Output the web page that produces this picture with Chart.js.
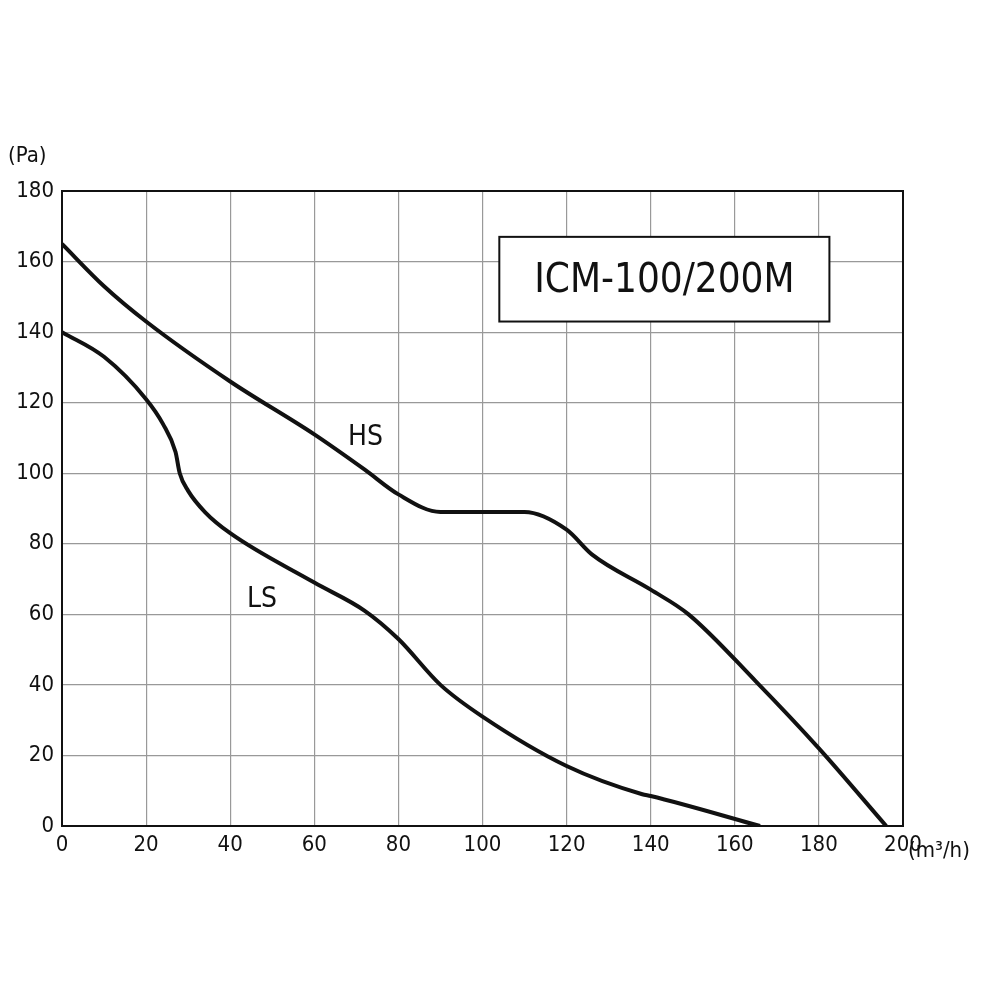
<!DOCTYPE html>
<html>
<head>
<meta charset="utf-8">
<script src="https://cdn.jsdelivr.net/npm/chart.js@4.4.1/dist/chart.umd.min.js"></script>
<style>
  html, body { margin: 0; padding: 0; background: #fff; }
  #wrap { width: 1000px; height: 1000px; }
</style>
</head>
<body>
<div id="wrap"><canvas id="fanChart" width="1000" height="1000"></canvas></div>
<script>
// air flow (m3/h) / pressure (Pa)
var hsFlow = [0, 10, 20, 40, 60, 72, 80, 90, 110, 120, 126, 140, 149, 165, 180, 196];
var hsPressure = [165, 153, 143, 126, 111, 101, 94, 89, 89, 84, 77, 67, 60, 41, 22, 0];
var lsFlow = [0, 10, 20, 24, 27, 28, 30, 34, 40, 60, 72, 80, 90, 100, 120, 138, 140, 166];
var lsPressure = [140, 133, 121, 114, 106, 100, 95, 89, 83, 69, 61, 53, 40, 31, 17, 9, 8.5, 0];
var xTicks = [0, 20, 40, 60, 80, 100, 120, 140, 160, 180, 200];
var yTicks = [0, 20, 40, 60, 80, 100, 120, 140, 160, 180];
var modelName = 'ICM-100/200M';

function toPoints(xs, ys) {
    return xs.map(function (x, i) { return { x: x, y: ys[i] }; });
}

var font = '"DejaVu Sans Condensed", "Liberation Sans Narrow", sans-serif';

var annotations = {
    id: 'annotations',
    afterDraw: function (chart) {
        var c = chart.ctx, x = chart.scales.x, y = chart.scales.y;
        c.save();
        c.fillStyle = '#111';
        c.font = '22px ' + font;
        c.textBaseline = 'alphabetic';
        c.textAlign = 'left';
        c.fillText('(Pa)', 8, 162);
        c.fillText('(m\u00b3/h)', 908, 857);
        c.font = '28px ' + font;
        c.fillText('HS', x.getPixelForValue(68), y.getPixelForValue(108));
        c.fillText('LS', x.getPixelForValue(44), y.getPixelForValue(62));
        // model box
        var bx = x.getPixelForValue(104), by = y.getPixelForValue(167);
        var bw = x.getPixelForValue(182.5) - bx, bh = y.getPixelForValue(143) - by;
        c.fillStyle = '#fff';
        c.fillRect(bx, by, bw, bh);
        c.strokeStyle = '#111';
        c.lineWidth = 2;
        c.strokeRect(bx, by, bw, bh);
        c.fillStyle = '#111';
        c.font = '40px ' + font;
        c.textAlign = 'center';
        c.textBaseline = 'middle';
        c.fillText(modelName, bx + bw / 2, by + bh / 2 + 2);
        c.restore();
    }
};

var ctx = document.getElementById('fanChart').getContext('2d');
var fanChart = new Chart(ctx, {
    type: 'line',
    data: {
        datasets: [{
            label: 'HS',
            data: toPoints(hsFlow, hsPressure),
            borderColor: '#111',
            borderWidth: 4,
            pointRadius: 0,
            cubicInterpolationMode: 'monotone'
        }, {
            label: 'LS',
            data: toPoints(lsFlow, lsPressure),
            borderColor: '#111',
            borderWidth: 4,
            pointRadius: 0,
            cubicInterpolationMode: 'monotone'
        }]
    },
    options: {
        responsive: false,
        animation: false,
        layout: { padding: { top: 191, right: 97, bottom: 140, left: 0 } },
        plugins: { legend: { display: false }, tooltip: { enabled: false } },
        scales: {
            x: {
                type: 'linear', min: 0, max: 200,
                afterBuildTicks: function (s) { s.ticks = xTicks.map(function (v) { return { value: v }; }); },
                afterFit: function (s) { s.height = 34; },
                grid: { color: '#999', lineWidth: 1.2, drawTicks: false },
                border: { color: '#111', width: 2 },
                ticks: { color: '#111', font: { size: 22, family: font }, padding: 6, maxRotation: 0 }
            },
            y: {
                min: 0, max: 180,
                afterBuildTicks: function (s) { s.ticks = yTicks.map(function (v) { return { value: v }; }); },
                afterFit: function (s) { s.width = 62; },
                grid: { color: '#999', lineWidth: 1.2, drawTicks: false },
                border: { color: '#111', width: 2 },
                ticks: { color: '#111', font: { size: 22, family: font }, padding: 8 }
            }
        }
    },
    plugins: [annotations, {
        id: 'frame',
        afterDatasetsDraw: function (chart) {
            var a = chart.chartArea, c = chart.ctx;
            c.save();
            c.strokeStyle = '#111';
            c.lineWidth = 2;
            c.strokeRect(a.left, a.top, a.right - a.left, a.bottom - a.top);
            c.restore();
        }
    }]
});
</script>
</body>
</html>
